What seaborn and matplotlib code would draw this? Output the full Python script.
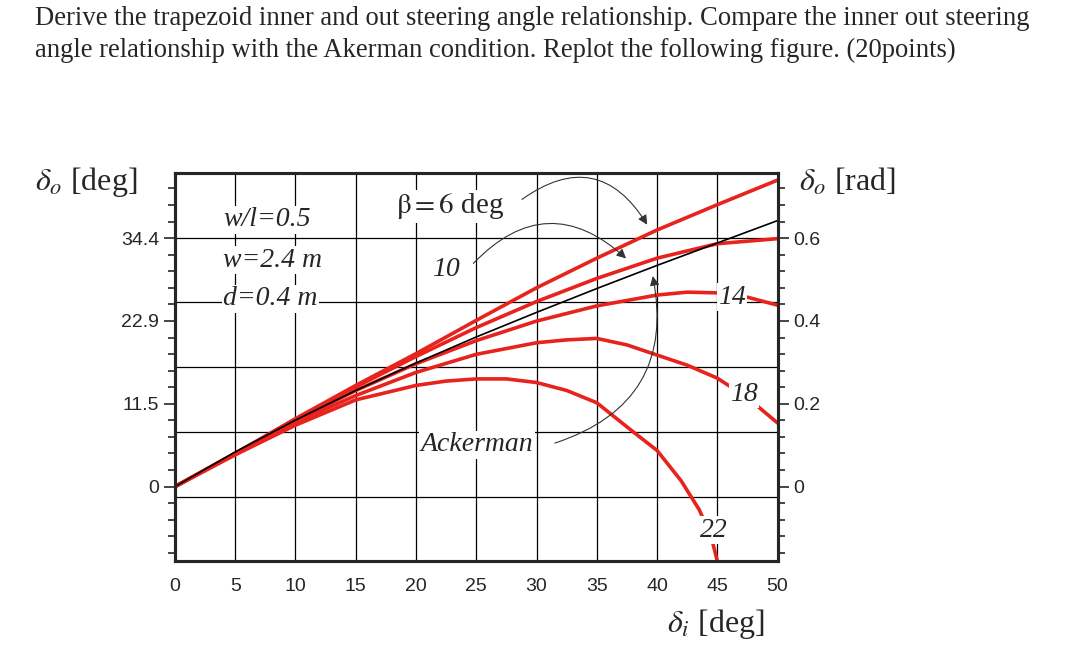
import numpy as np
import pandas as pd
import matplotlib
matplotlib.use("Agg")
import matplotlib.pyplot as plt
import seaborn as sns

sns.set_style("white")
plt.rcParams['font.family'] = ['Liberation Sans', 'DejaVu Sans']
plt.rcParams['mathtext.fontset'] = 'stix'

# values (deg)
di = [0, 5, 10, 15, 20, 25, 30, 35, 40, 45, 50]
ackerman = [0, 4.8, 9.2, 13.3, 17.1, 20.7, 24.1, 27.4, 30.6, 33.7, 36.8]
beta6 = [0, 4.6, 9.4, 14.0, 18.4, 23.0, 27.5, 31.6, 35.5, 39.0, 42.4]
beta10 = [0, 4.6, 9.3, 13.8, 18.0, 22.0, 25.6, 28.8, 31.6, 33.6, 34.3]
di14 = [0, 5, 10, 15, 20, 25, 30, 35, 40, 42.5, 45, 47.5, 50]
beta14 = [0, 4.6, 9.1, 13.3, 17.0, 20.2, 22.9, 25.0, 26.5, 26.9, 26.8, 26.2, 25.1]
di18 = [0, 5, 10, 15, 20, 25, 30, 32.5, 35, 37.5, 40, 42.5, 45, 47.5, 50]
beta18 = [0, 4.6, 8.9, 12.6, 15.8, 18.3, 19.9, 20.3, 20.5, 19.6, 18.2, 16.8, 15.0, 12.3, 8.8]
di22 = [0, 5, 10, 15, 20, 22.5, 25, 27.5, 30, 32.5, 35, 38, 40, 42, 43.5, 44.5, 45]
beta22 = [0, 4.4, 8.5, 12.0, 14.0, 14.6, 14.9, 14.9, 14.4, 13.3, 11.6, 7.6, 5.0, 0.8, -3.2, -7.0, -10.3]

rad_ticks = [0, 0.2, 0.4, 0.6]
deg_labels = ['0', '11.5', '22.9', '34.4']
ymin, ymax = -10.35, 43.4
red = '#e8221c'

fig = plt.figure(figsize=(10.8, 6.7), dpi=100)
ax = fig.add_axes([0.162, 0.162, 0.558, 0.580])

# grid: x every 5 deg, y in 6 equal parts
for gx in range(5, 50, 5):
    ax.axvline(gx, color='black', lw=0.9, zorder=1)
for gy in np.linspace(ymin, ymax, 7)[1:-1]:
    ax.axhline(gy, color='black', lw=0.9, zorder=1)

sns.lineplot(x=di, y=beta6, ax=ax, color=red, lw=2.6, zorder=3)
sns.lineplot(x=di, y=beta10, ax=ax, color=red, lw=2.6, zorder=3)
sns.lineplot(x=di14, y=beta14, ax=ax, color=red, lw=2.6, zorder=3)
sns.lineplot(x=di18, y=beta18, ax=ax, color=red, lw=2.6, zorder=3)
sns.lineplot(x=di22, y=beta22, ax=ax, color=red, lw=2.6, zorder=3)
sns.lineplot(x=di, y=ackerman, ax=ax, color='black', lw=1.2, zorder=4)

ax.set_xlim(0, 50)
ax.set_ylim(ymin, ymax)
ax.set_xticks(range(0, 51, 5))
ax.set_xticks(range(0, 51), minor=True)
deg_pos = np.degrees(rad_ticks)
ax.set_yticks(deg_pos)
ax.set_yticklabels(deg_labels)
ax.set_yticks(np.degrees(np.arange(-0.16, 0.76, 0.04)), minor=True)
ax.tick_params(which='both', direction='out', labelsize=14, width=1.2)
ax.tick_params(which='major', length=8)
ax.tick_params(which='minor', length=5)
ax.tick_params(axis='x', which='both', length=6, pad=6)
for s in ax.spines.values():
    s.set_linewidth(2.2)
    s.set_color('black')

ax2 = ax.twinx()
ax2.set_ylim(ymin, ymax)
ax2.set_yticks(deg_pos)
ax2.set_yticklabels(['0', '0.2', '0.4', '0.6'])
ax2.set_yticks(np.degrees(np.arange(-0.16, 0.76, 0.04)), minor=True)
ax2.tick_params(which='both', direction='out', labelsize=14, width=1.2)
ax2.tick_params(which='major', length=8)
ax2.tick_params(which='minor', length=5)
for s in ax2.spines.values():
    s.set_linewidth(2.2)

box = dict(facecolor='white', edgecolor='none', pad=1)
serif = ['Liberation Serif', 'DejaVu Serif']
ax.text(4.0, 36.9, 'w/l=0.5', fontsize=20, style='italic', family=serif, va='center', bbox=box, zorder=5)
ax.text(4.0, 31.3, 'w=2.4 m', fontsize=20, style='italic', family=serif, va='center', bbox=box, zorder=5)
ax.text(4.0, 26.0, 'd=0.4 m', fontsize=20, style='italic', family=serif, va='center', bbox=box, zorder=5)
ax.text(18.3, 38.8, r'$\mathrm{\beta} = 6$ deg', fontsize=21, family=serif, va='center', bbox=box, zorder=5)
ax.text(21.3, 30.0, '10', fontsize=20, style='italic', family=serif, va='center', bbox=box, zorder=5)
ax.text(20.4, 5.8, 'Ackerman', fontsize=20, style='italic', family=serif, va='center', bbox=box, zorder=5)
ax.text(46.2, 26.2, '14', fontsize=20, style='italic', family=serif, va='center', ha='center', bbox=box, zorder=5)
ax.text(47.2, 12.8, '18', fontsize=20, style='italic', family=serif, va='center', ha='center', bbox=box, zorder=5)
ax.text(44.7, -6.0, '22', fontsize=20, style='italic', family=serif, va='center', ha='center', bbox=box, zorder=5)

arrow = dict(arrowstyle='-|>', color='#333333', lw=0.8, mutation_scale=14)
ax.annotate('', xy=(39.3, 35.9), xytext=(28.6, 39.5),
            arrowprops=dict(arrow, connectionstyle='arc3,rad=-0.55'), zorder=6)
ax.annotate('', xy=(37.6, 31.3), xytext=(24.6, 30.6),
            arrowprops=dict(arrow, connectionstyle='arc3,rad=-0.5'), zorder=6)
ax.annotate('', xy=(39.6, 29.5), xytext=(31.3, 5.9),
            arrowprops=dict(arrow, connectionstyle='arc3,rad=0.45'), zorder=6)

fig.text(0.032, 0.728, r'$\delta_o$ [deg]', fontsize=23, family=serif, va='center')
fig.text(0.740, 0.728, r'$\delta_o$ [rad]', fontsize=23, family=serif, va='center')
fig.text(0.618, 0.068, r'$\delta_i$ [deg]', fontsize=23, family=serif, va='center')
fig.text(0.032, 0.973, 'Derive the trapezoid inner and out steering angle relationship. Compare the inner out steering',
         fontsize=19.2, family=serif, va='center')
fig.text(0.032, 0.925, 'angle relationship with the Akerman condition. Replot the following figure. (20points)',
         fontsize=19.2, family=serif, va='center')

fig.savefig('out.png', dpi=100)
